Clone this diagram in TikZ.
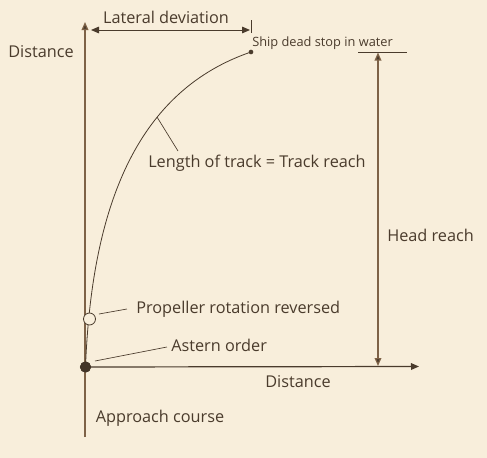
\documentclass[tikz,border=0pt]{standalone}
\usepackage{fontspec}
\setmainfont{Open Sans}
\usetikzlibrary{arrows.meta}
\definecolor{bg}{HTML}{F8EEDB}
\definecolor{ink}{HTML}{4A3B2C}
\definecolor{axisv}{HTML}{7E6247}
\tikzset{
  lbl/.style={text=ink, inner sep=0pt, font=\fontsize{12.2}{14}\selectfont},
  small/.style={text=ink, inner sep=0pt, font=\fontsize{9.6}{11}\selectfont},
  tip/.style={-{Triangle[length=6pt,width=5pt]}},
  both/.style={{Triangle[length=6pt,width=5pt]}-{Triangle[length=6pt,width=5pt]}},
  leader/.style={draw=ink, line width=0.5pt},
}
\begin{document}
\begin{tikzpicture}[x=0.75pt,y=-0.75pt]
\fill[bg] (0,0) rectangle (487,458);
\useasboundingbox (0,0) rectangle (487,458);
% axes
\coordinate (ybot) at (85,437);
\coordinate (ytop) at (85,22);
\coordinate (xend) at (419,366.5);
\node[circle, fill=ink!90!black, inner sep=0pt, minimum size=8.3pt] (O) at (85.5,367) {};
\draw[axisv, line width=0.9pt, -{Triangle[length=6pt,width=5pt,fill=ink]}] (ybot) -- (ytop);
\draw[ink, line width=0.9pt, tip] (O.center) -- (xend);
% curve
\node[circle, fill=ink, inner sep=0pt, minimum size=3.5pt] (stop) at (251,52) {};
\draw[ink, line width=0.6pt] (O.center) .. controls (92,200) and (140,90) .. (stop.center);
\node[circle, draw=ink, fill=bg, line width=0.6pt, inner sep=0pt, minimum size=9pt] (rev) at (89.5,319) {};
\node[circle, fill=ink!90!black, inner sep=0pt, minimum size=8.3pt] at (85.5,367) {};
% lateral deviation
\coordinate (latL) at (91,30);
\coordinate (latR) at (250,30);
\coordinate (tickT) at (251,20);
\coordinate (tickB) at (251,33);
\draw[ink, line width=0.7pt, both] (latL) -- (latR);
\draw[ink, line width=0.6pt] (tickT) -- (tickB);
\node[lbl] (latlbl) at (166,17) {Lateral deviation};
% head reach
\coordinate (hrL) at (358,52);
\coordinate (hrR) at (407,52);
\coordinate (hrT) at (378,52.5);
\coordinate (hrB) at (378,366);
\draw[ink, line width=0.6pt] (hrL) -- (hrR);
\draw[axisv, line width=0.9pt, {Triangle[length=6pt,width=5pt,fill=ink]}-{Triangle[length=6pt,width=5pt,fill=ink]}] (hrT) -- (hrB);
\node[lbl, anchor=west] (hr) at (387,235) {Head reach};
% labels
\node[lbl] (dy) at (41,52) {Distance};
\node[lbl] (dx) at (298,382) {Distance};
\node[small, anchor=west] (ship) at (252,43) {Ship dead stop in water};
\node[lbl] (track) at (257,163) {Length of track = Track reach};
\node[lbl, anchor=west] (prop) at (136,309) {Propeller rotation reversed};
\node[lbl, anchor=west] (astern) at (171,345) {Astern order};
\node[lbl] (appr) at (160,418) {Approach course};
% leaders
\coordinate (trA) at (157,117);
\coordinate (trB) at (178,151);
\draw[leader] (trA) -- (trB);
\coordinate (prA) at (99,314);
\coordinate (prB) at (127,309);
\draw[leader] (prA) -- (prB);
\coordinate (asA) at (95,361);
\coordinate (asB) at (167,347);
\draw[leader] (asA) -- (asB);
\end{tikzpicture}
\end{document}
